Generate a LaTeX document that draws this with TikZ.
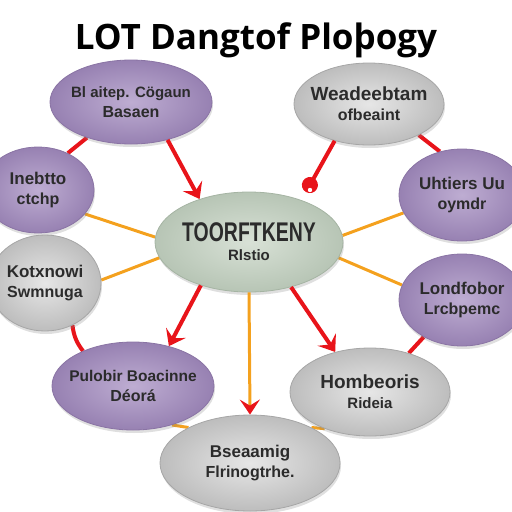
\documentclass[tikz,border=0pt]{standalone}
\usepackage{fontspec}
\usepackage{graphicx}
\setmainfont{Liberation Sans}
\newfontfamily\titlefont{Open Sans}
\usetikzlibrary{arrows.meta,shadows,calc,shapes.geometric}
\pgfdeclarelayer{bg}
\pgfsetlayers{bg,main}
\definecolor{purpin}{HTML}{BEADD2}
\definecolor{purpout}{HTML}{9781B2}
\definecolor{purpedge}{HTML}{8A74A4}
\definecolor{grayin}{HTML}{E6E6E6}
\definecolor{grayout}{HTML}{BDBDBD}
\definecolor{grayedge}{HTML}{A6A6A6}
\definecolor{greenin}{HTML}{D8E1D6}
\definecolor{greenout}{HTML}{B7C5B5}
\definecolor{greenedge}{HTML}{A5B4A3}
\definecolor{linkred}{HTML}{E8141A}
\definecolor{linkorange}{HTML}{F4A11E}
\definecolor{txt}{HTML}{2B2B2B}
\tikzset{
  bubble/.style={ellipse, inner sep=-18pt, align=center, text=txt, font=\bfseries\fontsize{16}{20}\selectfont,
    line width=0.8pt, drop shadow={opacity=0.25, shadow xshift=1pt, shadow yshift=-3pt}},
  purplebub/.style={bubble, inner color=purpin, outer color=purpout, draw=purpedge},
  graybub/.style={bubble, inner color=grayin, outer color=grayout, draw=grayedge},
  greenbub/.style={bubble, inner color=greenin, outer color=greenout, draw=greenedge},
  redlink/.style={draw=linkred, line width=4pt},
  orangelink/.style={draw=linkorange, line width=3pt},
  bigtip/.style={-{Stealth[length=15pt,width=22pt,inset=6pt]}},
}
\begin{document}
\begin{tikzpicture}[x=1pt,y=-1pt]
\useasboundingbox (0,0) rectangle (512,512);
\node (title) at (256,40) {\titlefont\bfseries\fontsize{35}{40}\selectfont LOT Dangtof Plo\char"00FE ogy};

\node[purplebub, minimum width=162pt, minimum height=84pt] (e1) at (131,102)
  {\fontsize{15}{20}\selectfont Bl aitep. Cögaun\\Basaen};
\node[graybub, minimum width=150pt, minimum height=82pt] (e2) at (369,104)
  {\fontsize{19}{21}\selectfont Weadeebtam\\\fontsize{16}{20}\selectfont ofbeaint};
\node[purplebub, minimum width=112pt, minimum height=86pt] (e3) at (38,190)
  {\fontsize{17}{21}\selectfont Inebtto\\ctchp};
\node[purplebub, minimum width=126pt, minimum height=92pt] (e4) at (462,195)
  {\fontsize{17}{21}\selectfont Uhtiers Uu\\oymdr};
\node[graybub, minimum width=112pt, minimum height=96pt] (e5) at (45,283)
  {\fontsize{17}{21}\selectfont Kotxnowi\\Swmnuga};
\node[purplebub, minimum width=126pt, minimum height=92pt] (e6) at (462,300)
  {\fontsize{17}{21}\selectfont Londfobor\\Lrcbpemc};
\node[purplebub, minimum width=162pt, minimum height=88pt] (e7) at (133,386)
  {\fontsize{15.5}{21}\selectfont Pulobir Boacinne\\Déorá};
\node[graybub, minimum width=160pt, minimum height=88pt] (e8) at (370,392)
  {\fontsize{19}{21}\selectfont Hombeoris\\\fontsize{15}{20}\selectfont Rideia};
\node[graybub, minimum width=180pt, minimum height=96pt] (e9) at (250,463)
  {\fontsize{17}{22}\selectfont Bseaamig\\Flrinogtrhe.};
\node[greenbub, minimum width=188pt, minimum height=100pt] (c) at (249,242)
  {\scalebox{0.72}[1]{\fontsize{27}{28}\selectfont TOORFTKENY}\\[-1pt]\fontsize{15}{18}\selectfont Rlstio};

\coordinate (ballend) at (306,192);

\begin{pgfonlayer}{bg}
  \draw[redlink] (e1.219) -- (e3.51);
  \draw[redlink] (e2.-32) -- (e4.117);
  \draw[redlink] (e5.-57) to[bend right=15] (e7.145);
  \draw[redlink] (e6.224) -- (e8.45);
  \draw[orangelink] (e3.-27) -- (c.177);
  \draw[orangelink] (e5.3) -- (c.190);
  \draw[orangelink] (e4.197) -- (c.4);
  \draw[orangelink] (e6.166) -- (c.-10);
  \draw[orangelink] (e7.-45) -- (e9.150);
  \draw[orangelink] (e8.219) -- (e9.30);
\end{pgfonlayer}

\draw[redlink, bigtip] (e1.-46) -- (c.139);
\draw[redlink, bigtip] (c.222) -- (e7.48);
\draw[redlink, bigtip] (c.-47) -- (e8.131);
\draw[orangelink, -{Stealth[length=15pt,width=20pt,inset=6pt,color=linkred]}] (c.-90) -- (e9.90);
\draw[redlink, -{Circle[length=16pt,color=linkred]}] (e2.227) -- (ballend);
\fill[white] ($(ballend)+(4,-2)$) circle (2.2pt);
\end{tikzpicture}
\end{document}
